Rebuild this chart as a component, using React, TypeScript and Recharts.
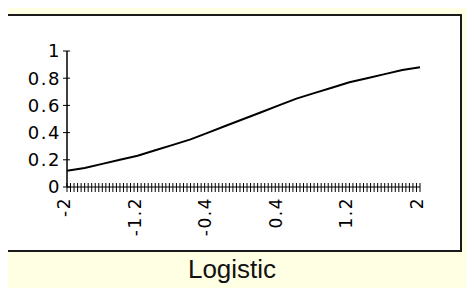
import { Line, LineChart, XAxis, YAxis } from "recharts";

const xValues = [-2, -1.8, -1.6, -1.4, -1.2, -1, -0.8, -0.6, -0.4, -0.2, 0, 0.2, 0.4, 0.6, 0.8, 1, 1.2, 1.4, 1.6, 1.8, 2];
const yValues = [0.12, 0.14, 0.17, 0.2, 0.23, 0.27, 0.31, 0.35, 0.4, 0.45, 0.5, 0.55, 0.6, 0.65, 0.69, 0.73, 0.77, 0.8, 0.83, 0.86, 0.88];

const xLabelTicks = [-2, -1.2, -0.4, 0.4, 1.2, 2];
const yTicks = [0, 0.2, 0.4, 0.6, 0.8, 1];
const title = "Logistic";

// minor tick marks every 0.04 along the x axis
const xMinorTicks = Array.from({ length: 101 }, (_, i) => Math.round((-2 + i * 0.04) * 100) / 100);

const data = xValues.map((x, i) => ({ x, y: yValues[i] }));

const tickFont = "'DejaVu Sans', sans-serif";

function XTick({ x, y, payload }: any) {
	const v = payload.value;
	const isLabel = xLabelTicks.some((t) => Math.abs(t - v) < 1e-6);
	return (
		<g>
			<line x1={x} x2={x} y1={y - 4} y2={y + 5} stroke="#000" strokeWidth={1} />
			{isLabel && (
				<text
					x={0}
					y={0}
					transform={`translate(${x - 3},${y + 10}) rotate(-90)`}
					textAnchor="end"
					dy="0.35em"
					fontFamily={tickFont}
					fontSize={17}
					letterSpacing={1.5}
					fill="#000"
				>
					{v}
				</text>
			)}
		</g>
	);
}

function YTick({ x, y, payload }: any) {
	return (
		<g>
			<line x1={x - 4} x2={x + 3} y1={y} y2={y} stroke="#000" strokeWidth={1} />
			<text
				x={x - 6}
				y={y}
				dy="0.36em"
				textAnchor="end"
				fontFamily={tickFont}
				fontSize={18}
				letterSpacing={1.5}
				fill="#000"
			>
				{payload.value}
			</text>
		</g>
	);
}

export default function App() {
	return (
		<div style={{ position: "relative", width: 474, height: 296, margin: -8, background: "#FFFFE3", overflow: "hidden" }}>
			<div
				style={{
					position: "absolute",
					left: 6,
					top: 14,
					width: 452,
					height: 234,
					border: "2px solid #1a1a1a",
					background: "#fff",
				}}
			/>
			<div style={{ position: "absolute", left: 0, top: 0 }}>
				<LineChart width={474} height={296} data={data} margin={{ top: 51, right: 54, left: 7, bottom: 49 }}>
					<XAxis
						dataKey="x"
						type="number"
						domain={[-2, 2]}
						ticks={xMinorTicks}
						interval={0}
						tickLine={false}
						tickSize={0}
						tickMargin={0}
						height={60}
						axisLine={{ stroke: "#000", strokeWidth: 1 }}
						tick={<XTick />}
					/>
					<YAxis
						type="number"
						domain={[0, 1]}
						ticks={yTicks}
						interval={0}
						tickLine={false}
						tickSize={0}
						tickMargin={0}
						width={60}
						axisLine={{ stroke: "#000", strokeWidth: 1.5 }}
						tick={<YTick />}
					/>
					<Line type="linear" dataKey="y" stroke="#000" strokeWidth={2} dot={false} isAnimationActive={false} />
				</LineChart>
			</div>
			<div
				style={{
					position: "absolute",
					left: 0,
					top: 254,
					width: 464,
					textAlign: "center",
					fontFamily: "'Liberation Sans', Arial, sans-serif",
					fontSize: 26,
					color: "#111",
				}}
			>
				{title}
			</div>
		</div>
	);
}
